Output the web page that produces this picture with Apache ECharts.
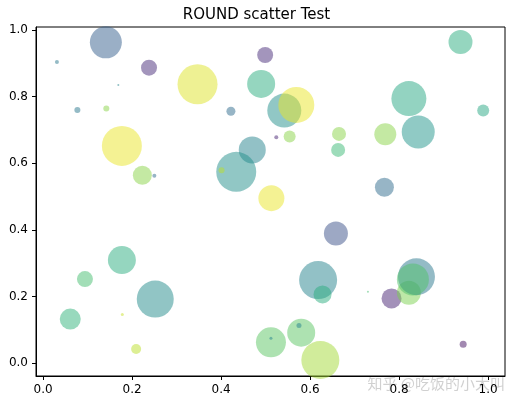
<!DOCTYPE html>
<html>
<head>
<meta charset="utf-8">
<script src="https://cdn.jsdelivr.net/npm/echarts@6/dist/echarts.min.js"></script>
<style>html,body{margin:0;padding:0;background:#fff}</style>
</head>
<body>
<div id="chart" style="width:513px;height:405px"></div>
<script>
// point positions
const xs = [0.141, 0.031, 0.238, 0.169, 0.347, 0.077, 0.142, 0.422, 0.177, 0.470,
  0.434, 0.401, 0.223, 0.250, 0.513, 0.177, 0.094, 0.252, 0.061, 0.178,
  0.209, 0.499, 0.490, 0.542, 0.569, 0.524, 0.554, 0.665, 0.663, 0.769,
  0.822, 0.843, 0.938, 0.989, 0.767, 0.658, 0.618, 0.628, 0.730, 0.783,
  0.822, 0.839, 0.831, 0.944, 0.512, 0.512, 0.580, 0.575, 0.623];
const ys = [0.963, 0.904, 0.887, 0.835, 0.837, 0.760, 0.764, 0.756, 0.652, 0.640,
  0.574, 0.579, 0.564, 0.562, 0.495, 0.309, 0.252, 0.192, 0.132, 0.146,
  0.042, 0.925, 0.838, 0.758, 0.775, 0.678, 0.680, 0.688, 0.640, 0.687,
  0.794, 0.694, 0.964, 0.758, 0.528, 0.389, 0.249, 0.206, 0.214, 0.194,
  0.211, 0.259, 0.251, 0.056, 0.062, 0.074, 0.091, 0.113, 0.009];
// marker diameters
const sizes = [32, 4, 16, 2, 40, 6, 6, 9, 40, 27,
  40, 6, 19, 4, 26, 28, 16, 37, 21, 3,
  10, 16, 28, 34, 36, 4, 12, 14, 14, 22,
  35, 33, 24, 12, 19, 24, 38, 18, 2, 20,
  24, 37, 32, 7, 30, 3, 28, 5, 38];
// colour value on the viridis scale
const colors = [0.3, 0.4, 0.12, 0.45, 0.95, 0.4, 0.82, 0.35, 0.97, 0.45,
  0.5, 0.9, 0.82, 0.35, 0.97, 0.62, 0.7, 0.48, 0.65, 0.92,
  0.9, 0.12, 0.62, 0.5, 0.97, 0.1, 0.82, 0.82, 0.68, 0.82,
  0.6, 0.52, 0.62, 0.6, 0.35, 0.25, 0.45, 0.62, 0.7, 0.1,
  0.8, 0.4, 0.72, 0.05, 0.74, 0.45, 0.74, 0.45, 0.86];
const ticks = [0, 0.2, 0.4, 0.6, 0.8, 1.0];

const viridis = ['#440154', '#482878', '#3e4989', '#31688e', '#26828e',
  '#1f9e89', '#35b779', '#6ece58', '#b5de2b', '#fde725'];

const points = xs.map((x, i) => [x, ys[i], sizes[i], colors[i]]);

const axisCommon = {
  type: 'value',
  splitLine: { show: false },
  axisLine: { show: true, onZero: false, lineStyle: { color: '#000' } },
  axisTick: { show: true, length: 4, customValues: ticks, lineStyle: { color: '#000' } },
  axisLabel: {
    customValues: ticks, color: '#000', fontSize: 12, fontFamily: 'DejaVu Sans',
    formatter: v => v.toFixed(1)
  }
};

const chart = echarts.init(document.getElementById('chart'));
chart.setOption({
  animation: false,
  title: {
    text: 'ROUND scatter Test', left: 'center', top: 3,
    textStyle: { fontFamily: 'DejaVu Sans', fontWeight: 'normal', fontSize: 15, color: '#000' }
  },
  grid: { left: 36, right: 8, top: 27, bottom: 29, show: true, borderColor: '#000', borderWidth: 1 },
  xAxis: Object.assign({}, axisCommon, { min: -0.016, max: 1.038 }),
  yAxis: Object.assign({}, axisCommon, { min: -0.039, max: 1.009 }),
  visualMap: { show: false, dimension: 3, min: 0, max: 1, inRange: { color: viridis } },
  series: [{
    type: 'scatter',
    data: points,
    symbolSize: d => d[2],
    itemStyle: { opacity: 0.5 }
  }],
  graphic: [{
    type: 'text', right: 8, bottom: 14,
    style: { text: '知乎 @吃饭的小大叫', fill: 'rgba(120,120,120,0.35)', fontSize: 15,
      fontFamily: 'Noto Sans CJK SC' }
  }]
});
</script>
</body>
</html>
